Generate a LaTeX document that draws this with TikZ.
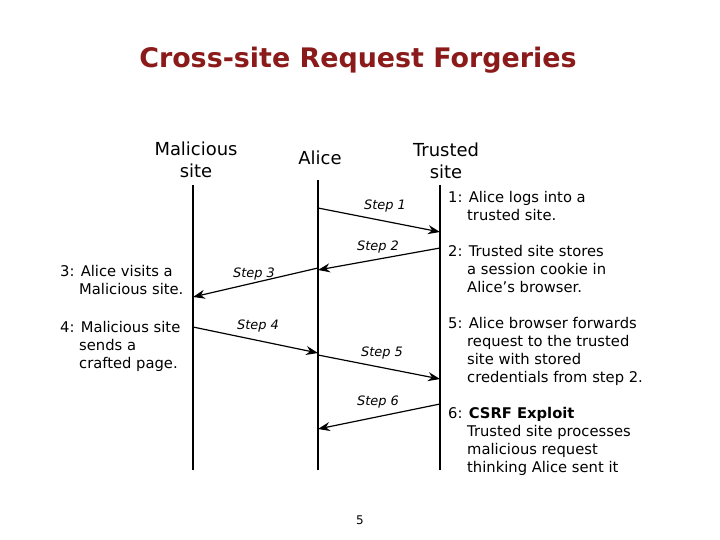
\documentclass[tikz,border=0pt]{standalone}
\usepackage{fontspec}
\setmainfont{DejaVu Sans}
\usetikzlibrary{arrows.meta}
\definecolor{titlered}{HTML}{8B1A1A}
\begin{document}
\begin{tikzpicture}[x=1bp,y=-1bp,
  life/.style={line width=1.8pt},
  msg/.style={line width=1.2pt,-{Stealth[length=12pt,width=9pt]}},
  steplbl/.style={font=\fontsize{13}{15}\selectfont\itshape},
  hdr/.style={font=\fontsize{18}{22}\selectfont,align=center},
  desc/.style={font=\fontsize{14.8}{18}\selectfont,align=left,anchor=north west,inner sep=0pt}]
\useasboundingbox (0,0) rectangle (720,540);
\node[font=\fontsize{27}{30}\selectfont\bfseries,text=titlered] (title) at (358,60) {Cross-site Request Forgeries};
\node[hdr] (hm) at (196,160) {Malicious\\site};
\node[hdr] (ha) at (320,158) {Alice};
\node[hdr] (ht) at (446,161) {Trusted\\site};
\coordinate (mt) at (193,185); \coordinate (mb) at (193,470);
\coordinate (at) at (318,180); \coordinate (ab) at (318,470);
\coordinate (tt) at (440,185); \coordinate (tb) at (440,470);
\draw[life] (mt) -- (mb); \draw[life] (at) -- (ab); \draw[life] (tt) -- (tb);
\coordinate (a1) at (318,208); \coordinate (t1) at (440,232);
\coordinate (t2) at (440,248); \coordinate (a2) at (318,270);
\coordinate (a3) at (318,268); \coordinate (m3) at (193,297);
\coordinate (m4) at (193,327); \coordinate (a4) at (318,353);
\coordinate (a5) at (318,355); \coordinate (t5) at (440,379);
\coordinate (t6) at (440,404); \coordinate (a6) at (318,429);
\draw[msg] (a1) -- (t1); \draw[msg] (t2) -- (a2); \draw[msg] (a3) -- (m3);
\draw[msg] (m4) -- (a4); \draw[msg] (a5) -- (t5); \draw[msg] (t6) -- (a6);
\node[steplbl] (s1) at (385,206) {Step 1};
\node[steplbl] (s2) at (378,247) {Step 2};
\node[steplbl] (s3) at (254,274) {Step 3};
\node[steplbl] (s4) at (258,326) {Step 4};
\node[steplbl] (s5) at (382,353) {Step 5};
\node[steplbl] (s6) at (378,402) {Step 6};
\node[desc] (d1) at (448,191) {1: Alice logs into a\\\hspace*{19bp}trusted site.};
\node[desc] (d2) at (448,245) {2: Trusted site stores\\\hspace*{19bp}a session cookie in\\\hspace*{19bp}Alice's browser.};
\node[desc] (d5) at (448,317) {5: Alice browser forwards\\\hspace*{19bp}request to the trusted\\\hspace*{19bp}site with stored\\\hspace*{19bp}credentials from step 2.};
\node[desc] (d6) at (448,407) {6: \textbf{CSRF Exploit}\\\hspace*{19bp}Trusted site processes\\\hspace*{19bp}malicious request\\\hspace*{19bp}thinking Alice sent it};
\node[desc] (d3) at (60,265) {3: Alice visits a\\\hspace*{19bp}Malicious site.};
\node[desc] (d4) at (60,321) {4: Malicious site\\\hspace*{19bp}sends a\\\hspace*{19bp}crafted page.};
\node[font=\fontsize{12}{14}\selectfont] (pg) at (360,520) {5};
\end{tikzpicture}
\end{document}
